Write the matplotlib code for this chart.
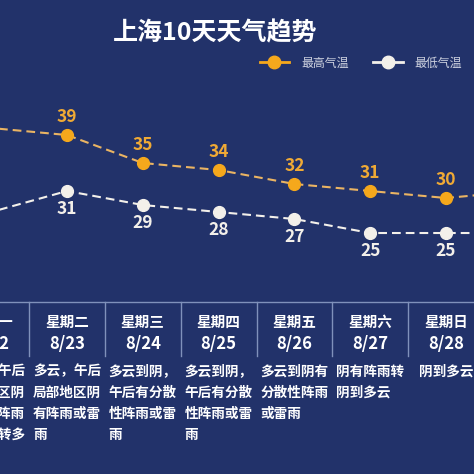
import matplotlib
matplotlib.use('Agg')
import matplotlib.pyplot as plt
from matplotlib.lines import Line2D
import numpy as np

plt.rcParams['font.family'] = ['Noto Sans CJK SC', 'DejaVu Sans']

# ----------------------------------------
# Data
# ----------------------------------------
dates = ['8/22', '8/23', '8/24', '8/25', '8/26', '8/27', '8/28', '8/29']
weekdays = ['星期一', '星期二', '星期三', '星期四', '星期五', '星期六', '星期日', '星期一']
high = [40, 39, 35, 34, 32, 31, 30, 31]
low = [28, 31, 29, 28, 27, 25, 25, 25]
desc = [
    '多云，午后\n局部地区阴\n有短时阵雨\n或雷雨转多',
    '多云，午后\n局部地区阴\n有阵雨或雷\n雨',
    '多云到阴，\n午后有分散\n性阵雨或雷\n雨',
    '多云到阴，\n午后有分散\n性阵雨或雷\n雨',
    '多云到阴有\n分散性阵雨\n或雷雨',
    '阴有阵雨转\n阴到多云',
    '阴到多云',
    '多云',
]

bg = '#22326a'
orange = '#f5a81c'
orange_line = '#eab463'
white = '#f3f0ea'
grid_c = '#8091bb'

W = H = 474
fig = plt.figure(figsize=(4.74, 4.74), dpi=100, facecolor=bg)
ax = fig.add_axes([0, 0, 1, 1])
ax.set_facecolor(bg)
ax.axis('off')

x = np.arange(len(dates))
ax.set_xlim(0.116, 6.369)
ax.set_ylim(-9.43, 58.29)

def fy(py):
    # pixel row from the top -> axes fraction
    return 1 - py / H

# temperature lines
ax.plot(x, high, color=orange_line, lw=1.5, ls=(0, (4.2, 2.4)), zorder=2)
ax.plot(x, high, 'o', ms=8.5, color=orange, mec=orange, zorder=3)
ax.plot(x, low, color=white, lw=1.5, ls=(0, (4.2, 2.4)), zorder=2)
ax.plot(x, low, 'o', ms=8.5, color=white, mec=white, zorder=3)

for xi, h, l in zip(x, high, low):
    ax.annotate(str(h), (xi, h), xytext=(0, 13), textcoords='offset points',
                ha='center', va='center', fontsize=12.5, fontweight='bold', color='#f0aa35')
    ax.annotate(str(l), (xi, l), xytext=(0, -13), textcoords='offset points',
                ha='center', va='center', fontsize=12.5, fontweight='bold', color=white)

# title
fig.text(215.5 / W, fy(33), '上海10天天气趋势', ha='center', va='center',
         fontsize=18, fontweight='bold', color='white')

# legend
handles = [
    Line2D([], [], color=orange, lw=2, marker='o', ms=9, mec=orange),
    Line2D([], [], color=white, lw=2, marker='o', ms=9, mec=white),
]
leg = ax.legend(handles, ['最高气温', '最低气温'], ncol=2, frameon=False,
                loc='center right', bbox_to_anchor=(462 / W, fy(63)),
                bbox_transform=fig.transFigure, fontsize=8.6,
                handlelength=2.5, handletextpad=1.0, columnspacing=2.0,
                borderpad=0, borderaxespad=0)
for t in leg.get_texts():
    t.set_color('#cfd3e0')

# table
trans = ax.get_xaxis_transform()
ax.plot([0, 1], [fy(302), fy(302)], color=grid_c, lw=1, transform=ax.transAxes)
for xi in x[:-1]:
    ax.plot([xi + 0.5, xi + 0.5], [fy(302), fy(356)], color=grid_c, lw=1, transform=trans)

for xi, wd, d, ds in zip(x, weekdays, dates, desc):
    ax.text(xi, fy(322), wd, transform=trans, ha='center', va='center',
            fontsize=10.5, fontweight='bold', color='white')
    ax.text(xi, fy(344), d, transform=trans, ha='center', va='center',
            fontsize=12, fontweight='bold', color='white')
    ax.text(xi, fy(364.5), ds, transform=trans, ha='center', va='top', multialignment='left',
            fontsize=9.8, fontweight='bold', color='white', linespacing=1.64)

fig.savefig('out.png', dpi=100, facecolor=bg)
